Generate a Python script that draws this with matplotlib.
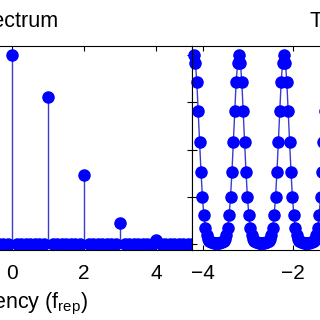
import numpy as np
import matplotlib
matplotlib.use("Agg")
import matplotlib.pyplot as plt

plt.rcParams['font.family'] = ['Liberation Sans', 'DejaVu Sans']
plt.rcParams['mathtext.default'] = 'regular'

# comb line amplitudes (normalised), harmonic order 0..4, mirrored for negative orders
ORDERS = [0, 1, 2, 3, 4]
AMPS = [1.0, 0.778, 0.365, 0.111, 0.02]
FREQ_STEP = 0.125          # frequency grid of the spectrum (f_rep units)

# one period of the sampled pulse intensity, starting at the peak (32 samples)
PERIOD = [1.0, 0.958, 0.86, 0.706, 0.54, 0.381, 0.249, 0.153, 0.085,
          0.045, 0.028, 0.018, 0.012, 0.009, 0.007, 0.006, 0.006,
          0.006, 0.007, 0.009, 0.012, 0.018, 0.028, 0.045,
          0.085, 0.153, 0.249, 0.381, 0.54, 0.706, 0.86, 0.958]
T_FIRST_PEAK = -4.2
N_PERIODS = 9

BLUE = '#0000ff'
LINE = '#3a3ad0'

# spectrum data
freq = np.arange(-5, 5 + FREQ_STEP / 2, FREQ_STEP)
spec = np.zeros_like(freq)
for n, a in zip(ORDERS, AMPS):
    spec[np.isclose(freq, n)] = a
    spec[np.isclose(freq, -n)] = a

# time trace
vals = np.tile(PERIOD, N_PERIODS)
t = T_FIRST_PEAK + np.arange(len(vals)) / len(PERIOD)

fig = plt.figure(figsize=(3.2, 3.2), dpi=100)
ax1 = fig.add_axes([-168 / 320, 70 / 320, 360 / 320, 204 / 320])
ax2 = fig.add_axes([192 / 320, 70 / 320, 360 / 320, 204 / 320])

# left: spectrum as stems
ml, sl, bl = ax1.stem(freq, spec, linefmt='-', markerfmt='o', basefmt='-')
plt.setp(sl, color=LINE, linewidth=1.0)
plt.setp(ml, color=BLUE, markersize=8, clip_on=False)
plt.setp(bl, color=BLUE, linewidth=1.0)
ax1.set_xlim(-5, 5)
ax1.set_xticks([-4, -2, 0, 2, 4])
ax1.set_title("Spectrum", fontsize=15.5, pad=14)
ax1.set_xlabel("Frequency (f$_{rep}$)", fontsize=15.5, labelpad=6)

# right: pulse train
ax2.plot(t, vals, '-o', color=LINE, markerfacecolor=BLUE, markeredgecolor=BLUE,
         markersize=8, linewidth=1.0, clip_on=False)
ax2.set_xlim(-4.244, 3.756)
ax2.set_xticks([-4, -2, 0, 2])
ax2.set_title("Time domain", fontsize=15.5, pad=14)
ax2.set_xlabel("Time (T$_{rep}$)", fontsize=15.5, labelpad=6)
ax2.set_yticklabels([])

for ax in (ax1, ax2):
    ax.set_ylim(-0.032, 1.048)
    ax.set_yticks([0, 0.25, 0.5, 0.75, 1.0])
    ax.tick_params(direction='in', length=3.5, width=0.8, top=True, right=True,
                   labelsize=15, pad=10)
    for s in ax.spines.values():
        s.set_linewidth(0.8)

fig.savefig("out.png", dpi=100)
